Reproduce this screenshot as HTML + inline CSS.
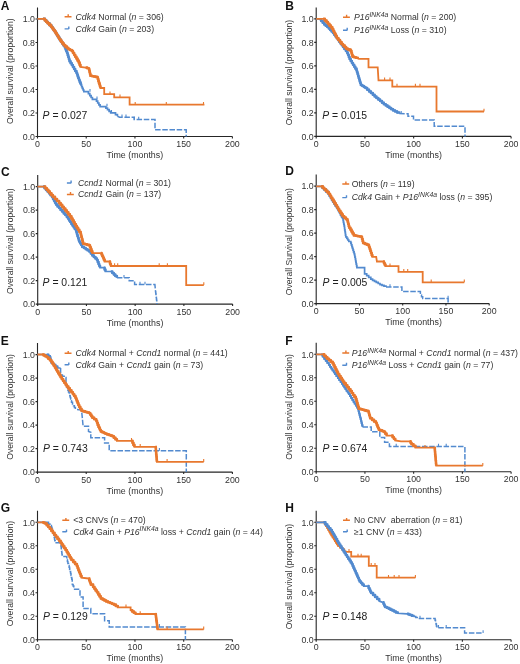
<!DOCTYPE html>
<html><head><meta charset="utf-8"><style>
html,body{margin:0;padding:0;background:#fff;width:520px;height:664px;overflow:hidden}
svg{display:block;filter:blur(0.3px)}
text{font-family:"Liberation Sans", sans-serif;fill:#333333}
.tk{font-size:8.8px}
.lb{font-size:8.85px} .yl{font-size:8.6px}
.lg{font-size:8.7px}
.pv{font-size:10.4px;fill:#222}
.let{font-size:12px;font-weight:bold;fill:#111}
</style></head><body>
<svg width="520" height="664" viewBox="0 0 520 664">
<g id="pA">
<path d="M37.50,7.50 V136.50 H232.40" fill="none" stroke="#262626" stroke-width="1.1"/>
<path d="M35.50,136.50 H37.50 M35.50,113.00 H37.50 M35.50,89.50 H37.50 M35.50,66.00 H37.50 M35.50,42.50 H37.50 M35.50,19.00 H37.50 M37.50,136.50 V138.50 M86.22,136.50 V138.50 M134.95,136.50 V138.50 M183.68,136.50 V138.50 M232.40,136.50 V138.50" stroke="#262626" stroke-width="1.1"/>
<text x="35.00" y="139.70" text-anchor="end" class="tk">0.0</text>
<text x="35.00" y="116.20" text-anchor="end" class="tk">0.2</text>
<text x="35.00" y="92.70" text-anchor="end" class="tk">0.4</text>
<text x="35.00" y="69.20" text-anchor="end" class="tk">0.6</text>
<text x="35.00" y="45.70" text-anchor="end" class="tk">0.8</text>
<text x="35.00" y="22.20" text-anchor="end" class="tk">1.0</text>
<text x="37.50" y="147.10" text-anchor="middle" class="tk">0</text>
<text x="86.22" y="147.10" text-anchor="middle" class="tk">50</text>
<text x="134.95" y="147.10" text-anchor="middle" class="tk">100</text>
<text x="183.68" y="147.10" text-anchor="middle" class="tk">150</text>
<text x="232.40" y="147.10" text-anchor="middle" class="tk">200</text>
<text x="134.80" y="158.00" text-anchor="middle" class="lb">Time (months)</text>
<text transform="translate(13.20,71.25) rotate(-90)" text-anchor="middle" class="yl">Overall survival (proportion)</text>
<text x="0.80" y="10.20" class="let">A</text>
<path d="M37.5,18.8 L43.0,18.8 L45.0,18.8 L45.0,20.5 L46.5,20.5 L46.5,22.0 L48.0,22.0 L48.0,23.5 L49.8,23.5 L49.8,25.4 L51.5,25.4 L51.5,27.2 L52.7,27.2 L52.7,28.8 L53.8,28.8 L53.8,30.4 L55.0,30.4 L55.0,32.0 L56.1,32.0 L56.1,33.9 L57.2,33.9 L57.2,35.8 L58.4,35.8 L58.4,37.6 L59.5,37.6 L59.5,39.5 L60.8,39.5 L60.8,41.5 L62.1,41.5 L62.1,43.5 L63.5,43.5 L63.5,45.5 L64.8,45.5 L64.8,47.5 L65.6,47.5 L65.6,49.4 L66.3,49.4 L66.3,51.3 L67.1,51.3 L67.1,53.2 L67.7,53.2 L67.7,55.2 L68.3,55.2 L68.3,57.2 L68.9,57.2 L68.9,59.3 L69.5,59.3 L69.5,61.3 L70.6,61.3 L70.6,63.2 L71.8,63.2 L71.8,65.1 L72.9,65.1 L72.9,67.0 L74.1,67.0 L74.1,68.9 L75.2,68.9 L75.2,70.9 L76.4,70.9 L76.4,72.8 L77.1,72.8 L77.1,74.6 L77.7,74.6 L77.7,76.4 L78.3,76.4 L78.3,78.2 L79.0,78.2 L79.0,80.0 L79.6,80.0 L79.6,81.7 L80.3,81.7 L80.3,83.3 L80.9,83.3 L80.9,85.0 L81.6,85.0 L81.6,86.7 L82.3,86.7 L82.3,88.3 L83.1,88.3 L83.1,90.0 L83.8,90.0 L83.8,91.7 L87.1,91.7 L88.4,91.7 L88.4,93.6 L89.8,93.6 L89.8,95.6 L91.1,95.6 L91.1,97.5 L92.4,97.5 L92.4,99.4 L95.3,99.4 L96.5,99.4 L96.5,101.2 L97.7,101.2 L97.7,103.0 L98.9,103.0 L98.9,104.8 L100.1,104.8 L100.1,106.6 L104.0,106.6 L105.9,106.6 L105.9,108.1 L107.5,108.1 L107.5,109.7 L109.1,109.7 L109.1,111.3 L110.7,111.3 L110.7,112.9 L113.6,112.9 L115.5,112.9 L115.5,114.6 L117.4,114.6 L117.4,116.3" fill="none" stroke="#528ACF" stroke-width="1.7" stroke-linejoin="miter"/>
<path d="M43.0,18.8 L45.0,18.8 L45.0,20.5 L46.5,20.5 L46.5,22.0 L48.0,22.0 L48.0,23.5 L49.8,23.5 L49.8,25.4 L51.5,25.4 L51.5,27.2 L52.7,27.2 L52.7,28.8 L53.8,28.8 L53.8,30.4 L55.0,30.4 L55.0,32.0 L56.1,32.0 L56.1,33.9 L57.2,33.9 L57.2,35.8 L58.4,35.8 L58.4,37.6 L59.5,37.6 L59.5,39.5 L60.8,39.5 L60.8,41.5 L62.1,41.5 L62.1,43.5 L63.5,43.5 L63.5,45.5 L64.8,45.5 L64.8,47.5 L65.6,47.5 L65.6,49.4 L66.3,49.4 L66.3,51.3 L67.1,51.3 L67.1,53.2 L67.7,53.2 L67.7,55.2 L68.3,55.2 L68.3,57.2 L68.9,57.2 L68.9,59.3 L69.5,59.3 L69.5,61.3 L70.6,61.3 L70.6,63.2 L71.8,63.2 L71.8,65.1 L72.9,65.1 L72.9,67.0 L74.1,67.0 L74.1,68.9 L75.2,68.9 L75.2,70.9 L76.4,70.9 L76.4,72.8 L77.1,72.8 L77.1,74.6 L77.7,74.6 L77.7,76.4 L78.3,76.4 L78.3,78.2 L79.0,78.2 L79.0,80.0 L79.6,80.0 L79.6,81.7 L80.3,81.7 L80.3,83.3 L80.9,83.3 L80.9,85.0" fill="none" stroke="#528ACF" stroke-width="2.5" stroke-linejoin="round"/>
<path d="M117.4,116.3 L119.6,117.3 L134.2,117.3 L134.2,119.5 L155.0,119.5 L155.0,129.8 L186.2,129.8 L186.2,136.5" fill="none" stroke="#528ACF" stroke-width="1.5" stroke-dasharray="5.5,1.7"/>
<path d="M134.3,119.5 V116.7 M138.7,119.5 V116.7 M90.0,91.7 V88.9 M97.0,99.4 V96.6 M107.0,106.6 V103.8 M111.5,112.9 V110.1 M122.0,117.3 V114.5 M126.0,117.3 V114.5" fill="none" stroke="#528ACF" stroke-width="1.1"/>
<path d="M37.5,18.8 L42.9,18.8 L44.7,18.8 L44.7,20.3 L46.1,20.3 L46.1,21.8 L47.5,21.8 L47.5,23.2 L49.2,23.2 L49.2,24.9 L51.0,24.9 L51.0,26.7 L52.2,26.7 L52.2,28.2 L53.3,28.2 L53.3,29.8 L54.5,29.8 L54.5,31.3 L55.6,31.3 L55.6,33.2 L56.8,33.2 L56.8,35.0 L57.9,35.0 L57.9,36.9 L59.0,36.9 L59.0,38.8 L60.2,38.8 L60.2,40.4 L61.4,40.4 L61.4,42.0 L62.5,42.0 L62.5,43.5 L63.7,43.5 L63.7,45.1 L65.2,45.1 L65.2,46.5 L66.8,46.5 L66.8,47.8 L68.3,47.8 L68.3,49.2 L70.0,49.2 L70.0,50.0 L71.8,50.0 L71.8,50.9 L72.9,50.9 L72.9,52.8 L74.1,52.8 L74.1,54.8 L75.2,54.8 L75.2,56.7 L76.4,56.7 L76.4,58.6 L77.5,58.6 L77.5,60.6 L78.7,60.6 L78.7,62.5 L79.6,62.5 L79.6,64.8 L80.4,64.8 L80.4,67.0 L85.6,67.6 L87.2,67.6 L87.2,68.2 L88.8,68.2 L88.8,68.8 L89.2,68.8 L89.2,70.5 L89.6,70.5 L89.6,72.3 L90.0,72.3 L90.0,74.0 L90.4,74.0 L90.4,75.8 L92.1,75.8 L92.1,76.2 L93.8,76.2 L93.8,76.5 L95.6,76.5 L95.6,76.9 L97.3,76.9 L97.3,77.3 L97.8,77.3 L97.8,79.1 L98.3,79.1 L98.3,80.9 L98.8,80.9 L98.8,82.7 L99.4,82.7 L99.4,84.4 L99.9,84.4 L99.9,86.2 L100.4,86.2 L100.4,88.0 L104.2,88.0 L104.2,94.2 L114.2,94.2 L114.2,97.3 L129.6,97.3 L129.6,104.7 L204.4,104.7" fill="none" stroke="#E8782E" stroke-width="1.8" stroke-linejoin="miter"/>
<path d="M42.9,18.8 L44.7,18.8 L44.7,20.3 L46.1,20.3 L46.1,21.8 L47.5,21.8 L47.5,23.2 L49.2,23.2 L49.2,24.9 L51.0,24.9 L51.0,26.7 L52.2,26.7 L52.2,28.2 L53.3,28.2 L53.3,29.8 L54.5,29.8 L54.5,31.3 L55.6,31.3 L55.6,33.2 L56.8,33.2 L56.8,35.0 L57.9,35.0 L57.9,36.9 L59.0,36.9 L59.0,38.8 L60.2,38.8 L60.2,40.4 L61.4,40.4 L61.4,42.0 L62.5,42.0 L62.5,43.5 L63.7,43.5 L63.7,45.1 L65.2,45.1 L65.2,46.5 L66.8,46.5 L66.8,47.8 L68.3,47.8 L68.3,49.2 L70.0,49.2 L70.0,50.0 L71.8,50.0 L71.8,50.9 L72.9,50.9 L72.9,52.8 L74.1,52.8 L74.1,54.8 L75.2,54.8 L75.2,56.7 L76.4,56.7 L76.4,58.6 L77.5,58.6 L77.5,60.6 L78.7,60.6 L78.7,62.5 L79.6,62.5 L79.6,64.8 L80.4,64.8 L80.4,67.0 M85.6,67.6 L87.2,67.6 L87.2,68.2 L88.8,68.2 L88.8,68.8 L89.2,68.8 L89.2,70.5 L89.6,70.5 L89.6,72.3 L90.0,72.3 L90.0,74.0 L90.4,74.0 L90.4,75.8 L92.1,75.8 L92.1,76.2 L93.8,76.2 L93.8,76.5 L95.6,76.5 L95.6,76.9 L97.3,76.9 L97.3,77.3 L97.8,77.3 L97.8,79.1 L98.3,79.1 L98.3,80.9 L98.8,80.9 L98.8,82.7 L99.4,82.7 L99.4,84.4 L99.9,84.4 L99.9,86.2 L100.4,86.2 L100.4,88.0" fill="none" stroke="#E8782E" stroke-width="2.6" stroke-linejoin="round"/>
<path d="M135.2,104.7 V101.9 M166.3,104.7 V101.9 M203.5,104.7 V101.9 M110.0,94.2 V91.4 M120.0,97.3 V94.5" fill="none" stroke="#E8782E" stroke-width="1.1"/>
<path d="M64.60,16.70 h6.9 M68.20,14.30 v2.4" stroke="#E8782E" stroke-width="1.4" fill="none"/>
<text x="75.60" y="19.50" class="lg"><tspan font-style="italic">Cdk4</tspan> Normal (<tspan font-style="italic">n</tspan> = 306)</text>
<path d="M64.60,28.90 h4.2 M68.80,26.50 v2.6" stroke="#528ACF" stroke-width="1.4" fill="none"/>
<text x="75.60" y="31.70" class="lg"><tspan font-style="italic">Cdk4</tspan> Gain (<tspan font-style="italic">n</tspan> = 203)</text>
<text x="42.60" y="118.70" class="pv"><tspan font-style="italic">P</tspan> = 0.027</text>
</g>
<g id="pB">
<path d="M316.20,7.40 V136.40 H511.10" fill="none" stroke="#262626" stroke-width="1.1"/>
<path d="M314.20,136.40 H316.20 M314.20,112.90 H316.20 M314.20,89.40 H316.20 M314.20,65.90 H316.20 M314.20,42.40 H316.20 M314.20,18.90 H316.20 M316.20,136.40 V138.40 M364.93,136.40 V138.40 M413.65,136.40 V138.40 M462.38,136.40 V138.40 M511.10,136.40 V138.40" stroke="#262626" stroke-width="1.1"/>
<text x="313.70" y="139.60" text-anchor="end" class="tk">0.0</text>
<text x="313.70" y="116.10" text-anchor="end" class="tk">0.2</text>
<text x="313.70" y="92.60" text-anchor="end" class="tk">0.4</text>
<text x="313.70" y="69.10" text-anchor="end" class="tk">0.6</text>
<text x="313.70" y="45.60" text-anchor="end" class="tk">0.8</text>
<text x="313.70" y="22.10" text-anchor="end" class="tk">1.0</text>
<text x="316.20" y="147.00" text-anchor="middle" class="tk">0</text>
<text x="364.93" y="147.00" text-anchor="middle" class="tk">50</text>
<text x="413.65" y="147.00" text-anchor="middle" class="tk">100</text>
<text x="462.38" y="147.00" text-anchor="middle" class="tk">150</text>
<text x="511.10" y="147.00" text-anchor="middle" class="tk">200</text>
<text x="413.50" y="157.90" text-anchor="middle" class="lb">Time (months)</text>
<text transform="translate(291.90,72.55) rotate(-90)" text-anchor="middle" class="yl">Overall survival (proportion)</text>
<text x="285.20" y="10.00" class="let">B</text>
<path d="M316.2,18.8 L319.6,19.2 L321.1,19.2 L321.1,20.9 L322.7,20.9 L322.7,22.7 L324.2,22.7 L324.2,24.4 L325.7,24.4 L325.7,25.7 L327.3,25.7 L327.3,27.1 L328.8,27.1 L328.8,28.4 L330.2,28.4 L330.2,29.9 L331.6,29.9 L331.6,31.5 L333.0,31.5 L333.0,33.0 L334.2,33.0 L334.2,34.8 L335.5,34.8 L335.5,36.5 L336.8,36.5 L336.8,38.2 L338.0,38.2 L338.0,40.0 L339.2,40.0 L339.2,41.8 L340.5,41.8 L340.5,43.5 L341.8,43.5 L341.8,45.2 L343.0,45.2 L343.0,47.0 L344.4,47.0 L344.4,49.1 L345.9,49.1 L345.9,51.1 L347.3,51.1 L347.3,53.2 L348.1,53.2 L348.1,55.1 L348.8,55.1 L348.8,57.1 L349.6,57.1 L349.6,59.0 L350.7,59.0 L350.7,60.9 L351.9,60.9 L351.9,62.9 L353.0,62.9 L353.0,64.8 L354.2,64.8 L354.2,66.7 L355.3,66.7 L355.3,68.6 L356.5,68.6 L356.5,70.5 L357.0,70.5 L357.0,72.3 L357.6,72.3 L357.6,74.1 L358.1,74.1 L358.1,75.9 L358.6,75.9 L358.6,77.8 L359.2,77.8 L359.2,79.6 L359.7,79.6 L359.7,81.4 L360.3,81.4 L360.3,83.2 L360.8,83.2 L360.8,85.0 L362.3,85.0 L362.3,86.0 L363.9,86.0 L363.9,87.0 L365.4,87.0 L365.4,88.0 L367.2,88.0 L367.2,89.7 L369.1,89.7 L369.1,91.4 L370.9,91.4 L370.9,93.1 L372.8,93.1 L372.8,94.8 L374.6,94.8 L374.6,96.5 L376.4,96.5 L376.4,98.0 L378.3,98.0 L378.3,99.6 L380.1,99.6 L380.1,101.1 L382.0,101.1 L382.0,102.7 L383.8,102.7 L383.8,104.2 L385.7,104.2 L385.7,105.4 L387.5,105.4 L387.5,106.7 L389.4,106.7 L389.4,107.9 L391.2,107.9 L391.2,109.2 L393.1,109.2 L393.1,110.4 L395.1,110.4 L395.1,111.4 L397.2,111.4 L397.2,112.5 L399.2,112.5 L399.2,113.5" fill="none" stroke="#528ACF" stroke-width="1.7" stroke-linejoin="miter"/>
<path d="M319.6,19.2 L321.1,19.2 L321.1,20.9 L322.7,20.9 L322.7,22.7 L324.2,22.7 L324.2,24.4 L325.7,24.4 L325.7,25.7 L327.3,25.7 L327.3,27.1 L328.8,27.1 L328.8,28.4 L330.2,28.4 L330.2,29.9 L331.6,29.9 L331.6,31.5 L333.0,31.5 L333.0,33.0 L334.2,33.0 L334.2,34.8 L335.5,34.8 L335.5,36.5 L336.8,36.5 L336.8,38.2 L338.0,38.2 L338.0,40.0 L339.2,40.0 L339.2,41.8 L340.5,41.8 L340.5,43.5 L341.8,43.5 L341.8,45.2 L343.0,45.2 L343.0,47.0 L344.4,47.0 L344.4,49.1 L345.9,49.1 L345.9,51.1 L347.3,51.1 L347.3,53.2 L348.1,53.2 L348.1,55.1 L348.8,55.1 L348.8,57.1 L349.6,57.1 L349.6,59.0 L350.7,59.0 L350.7,60.9 L351.9,60.9 L351.9,62.9 L353.0,62.9 L353.0,64.8 L354.2,64.8 L354.2,66.7 L355.3,66.7 L355.3,68.6 L356.5,68.6 L356.5,70.5 L357.0,70.5 L357.0,72.3 L357.6,72.3 L357.6,74.1 L358.1,74.1 L358.1,75.9 L358.6,75.9 L358.6,77.8 L359.2,77.8 L359.2,79.6 L359.7,79.6 L359.7,81.4 L360.3,81.4 L360.3,83.2 L360.8,83.2 L360.8,85.0 L362.3,85.0 L362.3,86.0 L363.9,86.0 L363.9,87.0 L365.4,87.0 L365.4,88.0 L367.2,88.0 L367.2,89.7 L369.1,89.7 L369.1,91.4 L370.9,91.4 L370.9,93.1 L372.8,93.1 L372.8,94.8 L374.6,94.8 L374.6,96.5 L376.4,96.5 L376.4,98.0 L378.3,98.0 L378.3,99.6 L380.1,99.6 L380.1,101.1 L382.0,101.1 L382.0,102.7 L383.8,102.7 L383.8,104.2 L385.7,104.2 L385.7,105.4 L387.5,105.4 L387.5,106.7 L389.4,106.7 L389.4,107.9 L391.2,107.9 L391.2,109.2 L393.1,109.2 L393.1,110.4 L395.1,110.4 L395.1,111.4 L397.2,111.4 L397.2,112.5 L399.2,112.5 L399.2,113.5" fill="none" stroke="#528ACF" stroke-width="2.5" stroke-linejoin="round"/>
<path d="M399.2,113.5 L408.0,113.8 L408.0,116.2 L413.5,116.2 L413.5,120.0 L434.2,120.0 L434.2,126.2 L465.0,126.2 L465.0,136.5" fill="none" stroke="#528ACF" stroke-width="1.5" stroke-dasharray="5.5,1.7"/>
<path d="M397.3,113.6 V110.8 M401.2,113.8 V111.0" fill="none" stroke="#528ACF" stroke-width="1.1"/>
<path d="M316.2,18.8 L323.1,18.8 L324.8,18.8 L324.8,20.5 L326.5,20.5 L326.5,22.1 L327.9,22.1 L327.9,23.8 L329.4,23.8 L329.4,25.6 L330.9,25.6 L330.9,27.3 L332.3,27.3 L332.3,29.0 L333.2,29.0 L333.2,30.8 L334.1,30.8 L334.1,32.7 L335.1,32.7 L335.1,34.5 L336.0,34.5 L336.0,36.4 L336.9,36.4 L336.9,38.2 L338.4,38.2 L338.4,40.1 L340.0,40.1 L340.0,42.1 L341.5,42.1 L341.5,44.0 L343.0,44.0 L343.0,45.5 L344.6,45.5 L344.6,47.1 L346.1,47.1 L346.1,48.6 L347.7,48.6 L347.7,49.4 L349.2,49.4 L349.2,50.1 L350.8,50.1 L350.8,50.9 L351.4,50.9 L351.4,52.8 L351.9,52.8 L351.9,54.8 L352.5,54.8 L352.5,56.7 L354.2,56.7 L354.2,57.3 L356.0,57.3 L356.0,57.8 L357.7,57.8 L357.7,58.4 L358.8,58.8 L368.5,58.8 L368.5,67.3 L377.7,67.3 L378.5,80.4 L392.3,80.4 L392.3,86.6 L436.5,86.6 L436.5,111.5 L484.0,111.5" fill="none" stroke="#E8782E" stroke-width="1.8" stroke-linejoin="miter"/>
<path d="M323.1,18.8 L324.8,18.8 L324.8,20.5 L326.5,20.5 L326.5,22.1 L327.9,22.1 L327.9,23.8 L329.4,23.8 L329.4,25.6 L330.9,25.6 L330.9,27.3 L332.3,27.3 L332.3,29.0 L333.2,29.0 L333.2,30.8 L334.1,30.8 L334.1,32.7 L335.1,32.7 L335.1,34.5 L336.0,34.5 L336.0,36.4 L336.9,36.4 L336.9,38.2 L338.4,38.2 L338.4,40.1 L340.0,40.1 L340.0,42.1 L341.5,42.1 L341.5,44.0 L343.0,44.0 L343.0,45.5 L344.6,45.5 L344.6,47.1 L346.1,47.1 L346.1,48.6 L347.7,48.6 L347.7,49.4 L349.2,49.4 L349.2,50.1 L350.8,50.1 L350.8,50.9 L351.4,50.9 L351.4,52.8 L351.9,52.8 L351.9,54.8 L352.5,54.8 L352.5,56.7 L354.2,56.7 L354.2,57.3 L356.0,57.3 L356.0,57.8 L357.7,57.8 L357.7,58.4" fill="none" stroke="#E8782E" stroke-width="2.6" stroke-linejoin="round"/>
<path d="M350.8,50.9 V48.1 M384.6,80.4 V77.6 M390.0,80.4 V77.6 M397.0,86.6 V83.8 M415.4,86.6 V83.8 M420.0,86.6 V83.8 M484.0,111.5 V108.7" fill="none" stroke="#E8782E" stroke-width="1.1"/>
<path d="M343.00,17.20 h6.9 M346.60,14.80 v2.4" stroke="#E8782E" stroke-width="1.4" fill="none"/>
<text x="354.00" y="20.00" class="lg"><tspan font-style="italic">P16</tspan><tspan font-size="6.8" dy="-3.3" font-style="italic">INK4a</tspan><tspan dy="3.3"> Normal (<tspan font-style="italic">n</tspan> = 200)</tspan></text>
<path d="M343.00,30.20 h4.2 M347.20,27.80 v2.6" stroke="#528ACF" stroke-width="1.4" fill="none"/>
<text x="354.00" y="33.00" class="lg"><tspan font-style="italic">P16</tspan><tspan font-size="6.8" dy="-3.3" font-style="italic">INK4a</tspan><tspan dy="3.3"> Loss (<tspan font-style="italic">n</tspan> = 310)</tspan></text>
<text x="322.20" y="118.60" class="pv"><tspan font-style="italic">P</tspan> = 0.015</text>
</g>
<g id="pC">
<path d="M37.70,175.10 V304.10 H232.60" fill="none" stroke="#262626" stroke-width="1.1"/>
<path d="M35.70,304.10 H37.70 M35.70,280.60 H37.70 M35.70,257.10 H37.70 M35.70,233.60 H37.70 M35.70,210.10 H37.70 M35.70,186.60 H37.70 M37.70,304.10 V306.10 M86.43,304.10 V306.10 M135.15,304.10 V306.10 M183.88,304.10 V306.10 M232.60,304.10 V306.10" stroke="#262626" stroke-width="1.1"/>
<text x="35.20" y="307.30" text-anchor="end" class="tk">0.0</text>
<text x="35.20" y="283.80" text-anchor="end" class="tk">0.2</text>
<text x="35.20" y="260.30" text-anchor="end" class="tk">0.4</text>
<text x="35.20" y="236.80" text-anchor="end" class="tk">0.6</text>
<text x="35.20" y="213.30" text-anchor="end" class="tk">0.8</text>
<text x="35.20" y="189.80" text-anchor="end" class="tk">1.0</text>
<text x="37.70" y="314.70" text-anchor="middle" class="tk">0</text>
<text x="86.43" y="314.70" text-anchor="middle" class="tk">50</text>
<text x="135.15" y="314.70" text-anchor="middle" class="tk">100</text>
<text x="183.88" y="314.70" text-anchor="middle" class="tk">150</text>
<text x="232.60" y="314.70" text-anchor="middle" class="tk">200</text>
<text x="135.00" y="325.60" text-anchor="middle" class="lb">Time (months)</text>
<text transform="translate(13.40,241.20) rotate(-90)" text-anchor="middle" class="yl">Overall survival (proportion)</text>
<text x="1.00" y="175.80" class="let">C</text>
<path d="M37.5,186.6 L43.0,186.6 L44.5,186.6 L44.5,188.2 L46.0,188.2 L46.0,189.9 L47.5,189.9 L47.5,191.5 L49.0,191.5 L49.0,193.3 L50.5,193.3 L50.5,195.2 L52.0,195.2 L52.0,197.0 L53.0,197.0 L53.0,198.9 L54.0,198.9 L54.0,200.8 L55.0,200.8 L55.0,202.7 L56.0,202.7 L56.0,204.6 L57.5,204.6 L57.5,206.4 L59.1,206.4 L59.1,208.1 L60.6,208.1 L60.6,209.9 L62.2,209.9 L62.2,211.6 L63.7,211.6 L63.7,213.4 L65.3,213.4 L65.3,215.1 L66.8,215.1 L66.8,216.9 L68.0,216.9 L68.0,218.6 L69.1,218.6 L69.1,220.4 L70.2,220.4 L70.2,222.1 L71.4,222.1 L71.4,223.9 L72.5,223.9 L72.5,225.6 L73.7,225.6 L73.7,227.3 L74.8,227.3 L74.8,229.1 L76.0,229.1 L76.0,230.8 L76.5,230.8 L76.5,232.6 L77.0,232.6 L77.0,234.4 L77.5,234.4 L77.5,236.2 L78.1,236.2 L78.1,237.9 L78.6,237.9 L78.6,239.7 L79.1,239.7 L79.1,241.5 L80.1,241.5 L80.1,243.3 L81.2,243.3 L81.2,245.1 L82.2,245.1 L82.2,246.9 L84.0,246.9 L84.0,248.1 L85.7,248.1 L85.7,249.2 L87.5,249.2 L87.5,250.3 L89.2,250.3 L89.2,251.5 L90.8,251.5 L90.8,253.4 L92.3,253.4 L92.3,255.4 L93.8,255.4 L93.8,256.9 L95.4,256.9 L95.4,258.5 L96.9,258.5 L96.9,260.0 L97.7,260.0 L97.7,261.9 L98.5,261.9 L98.5,263.9 L99.2,263.9 L99.2,265.8 L100.0,265.8 L100.0,267.7 L103.8,267.7 L104.6,267.7 L104.6,269.6 L105.4,269.6 L105.4,271.5 L110.8,271.5 L112.3,271.5 L112.3,273.1 L113.8,273.1 L113.8,274.6 L115.3,274.6 L115.3,276.1 L116.9,276.1 L116.9,277.7" fill="none" stroke="#528ACF" stroke-width="1.7" stroke-linejoin="miter"/>
<path d="M43.0,186.6 L44.5,186.6 L44.5,188.2 L46.0,188.2 L46.0,189.9 L47.5,189.9 L47.5,191.5 L49.0,191.5 L49.0,193.3 L50.5,193.3 L50.5,195.2 L52.0,195.2 L52.0,197.0 L53.0,197.0 L53.0,198.9 L54.0,198.9 L54.0,200.8 L55.0,200.8 L55.0,202.7 L56.0,202.7 L56.0,204.6 L57.5,204.6 L57.5,206.4 L59.1,206.4 L59.1,208.1 L60.6,208.1 L60.6,209.9 L62.2,209.9 L62.2,211.6 L63.7,211.6 L63.7,213.4 L65.3,213.4 L65.3,215.1 L66.8,215.1 L66.8,216.9 L68.0,216.9 L68.0,218.6 L69.1,218.6 L69.1,220.4 L70.2,220.4 L70.2,222.1 L71.4,222.1 L71.4,223.9 L72.5,223.9 L72.5,225.6 L73.7,225.6 L73.7,227.3 L74.8,227.3 L74.8,229.1 L76.0,229.1 L76.0,230.8 L76.5,230.8 L76.5,232.6 L77.0,232.6 L77.0,234.4 L77.5,234.4 L77.5,236.2 L78.1,236.2 L78.1,237.9 L78.6,237.9 L78.6,239.7 L79.1,239.7 L79.1,241.5 L80.1,241.5 L80.1,243.3 L81.2,243.3 L81.2,245.1 L82.2,245.1 L82.2,246.9 L84.0,246.9 L84.0,248.1 L85.7,248.1 L85.7,249.2 L87.5,249.2 L87.5,250.3 L89.2,250.3 L89.2,251.5 L90.8,251.5 L90.8,253.4 L92.3,253.4 L92.3,255.4 L93.8,255.4 L93.8,256.9 L95.4,256.9 L95.4,258.5 L96.9,258.5 L96.9,260.0 L97.7,260.0 L97.7,261.9 L98.5,261.9 L98.5,263.9 L99.2,263.9 L99.2,265.8 L100.0,265.8 L100.0,267.7 M103.8,267.7 L104.6,267.7 L104.6,269.6 L105.4,269.6 L105.4,271.5 M110.8,271.5 L112.3,271.5 L112.3,273.1 L113.8,273.1 L113.8,274.6 L115.3,274.6 L115.3,276.1 L116.9,276.1 L116.9,277.7" fill="none" stroke="#528ACF" stroke-width="2.5" stroke-linejoin="round"/>
<path d="M116.9,277.7 L129.2,277.7 L129.2,280.8 L134.6,280.8 L134.6,284.6 L154.9,284.6 L155.6,292.0 L155.8,292.0 L155.8,293.7 L156.0,293.7 L156.0,295.5 L156.2,295.5 L156.2,297.2 L156.4,297.2 L156.4,298.9 L156.6,298.9 L156.6,300.6 L156.8,300.6 L156.8,302.4 L157.0,302.4 L157.0,304.1" fill="none" stroke="#528ACF" stroke-width="1.5" stroke-dasharray="5.5,1.7"/>
<path d="M124.0,277.7 V274.9 M140.0,284.6 V281.8 M145.0,284.6 V281.8" fill="none" stroke="#528ACF" stroke-width="1.1"/>
<path d="M37.5,186.6 L43.7,186.6 L45.2,186.6 L45.2,188.2 L46.8,188.2 L46.8,189.9 L48.3,189.9 L48.3,191.5 L49.8,191.5 L49.8,193.3 L51.4,193.3 L51.4,195.1 L52.9,195.1 L52.9,196.9 L55.0,196.9 L55.0,199.0 L57.0,199.0 L57.0,201.0 L59.1,201.0 L59.1,203.1 L60.6,203.1 L60.6,204.9 L62.2,204.9 L62.2,206.8 L63.7,206.8 L63.7,208.6 L65.3,208.6 L65.3,210.5 L66.8,210.5 L66.8,212.3 L68.3,212.3 L68.3,214.4 L69.9,214.4 L69.9,216.4 L71.4,216.4 L71.4,218.5 L72.5,218.5 L72.5,220.3 L73.6,220.3 L73.6,222.2 L74.6,222.2 L74.6,224.0 L75.7,224.0 L75.7,225.9 L76.8,225.9 L76.8,227.7 L78.1,227.7 L78.1,229.7 L79.3,229.7 L79.3,231.8 L80.6,231.8 L80.6,233.8 L81.0,233.8 L81.0,235.5 L81.4,235.5 L81.4,237.1 L81.8,237.1 L81.8,238.8 L82.3,238.8 L82.3,240.5 L82.7,240.5 L82.7,242.1 L83.1,242.1 L83.1,243.8 L85.1,243.8 L85.1,244.3 L87.2,244.3 L87.2,244.9 L89.2,244.9 L89.2,245.4 L90.0,245.4 L90.0,247.3 L90.8,247.3 L90.8,249.2 L91.5,249.2 L91.5,251.2 L92.3,251.2 L92.3,253.1 L100.8,253.1 L101.6,253.1 L101.6,254.6 L102.3,254.6 L102.3,256.2 L103.1,256.2 L103.1,257.7 L103.8,257.7 L103.8,259.6 L104.6,259.6 L104.6,261.5 L109.2,261.5 L110.0,261.5 L110.0,263.8 L110.8,263.8 L110.8,266.0 L186.2,266.0 L186.2,285.1 L203.8,285.1" fill="none" stroke="#E8782E" stroke-width="1.8" stroke-linejoin="miter"/>
<path d="M43.7,186.6 L45.2,186.6 L45.2,188.2 L46.8,188.2 L46.8,189.9 L48.3,189.9 L48.3,191.5 L49.8,191.5 L49.8,193.3 L51.4,193.3 L51.4,195.1 L52.9,195.1 L52.9,196.9 L55.0,196.9 L55.0,199.0 L57.0,199.0 L57.0,201.0 L59.1,201.0 L59.1,203.1 L60.6,203.1 L60.6,204.9 L62.2,204.9 L62.2,206.8 L63.7,206.8 L63.7,208.6 L65.3,208.6 L65.3,210.5 L66.8,210.5 L66.8,212.3 L68.3,212.3 L68.3,214.4 L69.9,214.4 L69.9,216.4 L71.4,216.4 L71.4,218.5 L72.5,218.5 L72.5,220.3 L73.6,220.3 L73.6,222.2 L74.6,222.2 L74.6,224.0 L75.7,224.0 L75.7,225.9 L76.8,225.9 L76.8,227.7 L78.1,227.7 L78.1,229.7 L79.3,229.7 L79.3,231.8 L80.6,231.8 L80.6,233.8 L81.0,233.8 L81.0,235.5 L81.4,235.5 L81.4,237.1 L81.8,237.1 L81.8,238.8 L82.3,238.8 L82.3,240.5 L82.7,240.5 L82.7,242.1 L83.1,242.1 L83.1,243.8 L85.1,243.8 L85.1,244.3 L87.2,244.3 L87.2,244.9 L89.2,244.9 L89.2,245.4 L90.0,245.4 L90.0,247.3 L90.8,247.3 L90.8,249.2 L91.5,249.2 L91.5,251.2 L92.3,251.2 L92.3,253.1 M100.8,253.1 L101.6,253.1 L101.6,254.6 L102.3,254.6 L102.3,256.2 L103.1,256.2 L103.1,257.7 L103.8,257.7 L103.8,259.6 L104.6,259.6 L104.6,261.5 M109.2,261.5 L110.0,261.5 L110.0,263.8 L110.8,263.8 L110.8,266.0" fill="none" stroke="#E8782E" stroke-width="2.6" stroke-linejoin="round"/>
<path d="M114.6,266.0 V263.2 M117.7,266.0 V263.2 M159.2,266.0 V263.2 M167.4,266.0 V263.2 M203.8,285.1 V282.3" fill="none" stroke="#E8782E" stroke-width="1.1"/>
<path d="M66.90,183.00 h4.2 M71.10,180.60 v2.6" stroke="#528ACF" stroke-width="1.4" fill="none"/>
<text x="77.90" y="185.80" class="lg"><tspan font-style="italic">Ccnd1</tspan> Normal (<tspan font-style="italic">n</tspan> = 301)</text>
<path d="M66.90,194.50 h6.9 M70.50,192.10 v2.4" stroke="#E8782E" stroke-width="1.4" fill="none"/>
<text x="77.90" y="197.30" class="lg"><tspan font-style="italic">Ccnd1</tspan> Gain (<tspan font-style="italic">n</tspan> = 137)</text>
<text x="42.60" y="285.60" class="pv"><tspan font-style="italic">P</tspan> = 0.121</text>
</g>
<g id="pD">
<path d="M316.20,174.60 V303.60 H489.20" fill="none" stroke="#262626" stroke-width="1.1"/>
<path d="M314.20,303.60 H316.20 M314.20,280.10 H316.20 M314.20,256.60 H316.20 M314.20,233.10 H316.20 M314.20,209.60 H316.20 M314.20,186.10 H316.20 M316.20,303.60 V305.60 M359.45,303.60 V305.60 M402.70,303.60 V305.60 M445.95,303.60 V305.60 M489.20,303.60 V305.60" stroke="#262626" stroke-width="1.1"/>
<text x="313.70" y="306.80" text-anchor="end" class="tk">0.0</text>
<text x="313.70" y="283.30" text-anchor="end" class="tk">0.2</text>
<text x="313.70" y="259.80" text-anchor="end" class="tk">0.4</text>
<text x="313.70" y="236.30" text-anchor="end" class="tk">0.6</text>
<text x="313.70" y="212.80" text-anchor="end" class="tk">0.8</text>
<text x="313.70" y="189.30" text-anchor="end" class="tk">1.0</text>
<text x="316.20" y="314.20" text-anchor="middle" class="tk">0</text>
<text x="359.45" y="314.20" text-anchor="middle" class="tk">50</text>
<text x="402.70" y="314.20" text-anchor="middle" class="tk">100</text>
<text x="445.95" y="314.20" text-anchor="middle" class="tk">150</text>
<text x="489.20" y="314.20" text-anchor="middle" class="tk">200</text>
<text x="413.50" y="325.10" text-anchor="middle" class="lb">Time (months)</text>
<text transform="translate(291.90,241.70) rotate(-90)" text-anchor="middle" class="yl">Overall Survival (proportion)</text>
<text x="285.20" y="175.30" class="let">D</text>
<path d="M316.2,186.4 L321.0,186.4 L322.5,186.4 L322.5,187.9 L324.0,187.9 L324.0,189.5 L326.2,189.5 L326.2,191.8 L328.5,191.8 L328.5,194.0 L329.6,194.0 L329.6,195.9 L330.8,195.9 L330.8,197.9 L331.9,197.9 L331.9,199.9 L333.0,199.9 L333.0,201.8 L334.2,201.8 L334.2,203.7 L335.5,203.7 L335.5,205.7 L336.8,205.7 L336.8,207.6 L338.0,207.6 L338.0,209.5 L338.9,209.5 L338.9,211.3 L339.9,211.3 L339.9,213.1 L340.8,213.1 L340.8,214.9 L341.8,214.9 L341.8,216.7 L342.7,216.7 L342.7,218.5 L343.1,218.5 L343.1,220.4 L343.4,220.4 L343.4,222.3 L343.8,222.3 L343.8,224.3 L344.2,224.3 L344.2,226.2 L344.5,226.2 L344.5,228.0 L344.7,228.0 L344.7,229.8 L345.0,229.8 L345.0,231.6 L345.3,231.6 L345.3,233.3 L345.5,233.3 L345.5,235.1 L345.8,235.1 L345.8,236.9 L346.8,236.9 L346.8,238.4 L347.8,238.4 L347.8,240.0 L348.8,240.0 L348.8,241.5 L350.8,241.5 L350.8,243.1 L351.3,243.1 L351.3,244.9 L351.9,244.9 L351.9,246.6 L352.4,246.6 L352.4,248.4 L353.0,248.4 L353.0,250.1 L353.5,250.1 L353.5,251.9 L354.1,251.9 L354.1,253.6 L354.6,253.6 L354.6,255.4 L354.9,255.4 L354.9,257.2 L355.3,257.2 L355.3,258.9 L355.6,258.9 L355.6,260.7 L355.9,260.7 L355.9,262.4 L356.2,262.4 L356.2,264.2 L356.6,264.2 L356.6,265.9 L356.9,265.9 L356.9,267.7 L364.6,267.7 L364.6,273.8 L366.7,273.8 L366.7,275.6 L368.7,275.6 L368.7,277.4 L370.8,277.4 L370.8,279.2 L372.6,279.2 L372.6,280.3 L374.5,280.3 L374.5,281.4 L376.3,281.4 L376.3,282.4 L378.2,282.4 L378.2,283.5 L380.0,283.5 L380.0,284.6 L382.0,284.6 L382.0,285.4 L384.0,285.4 L384.0,286.2 L386.0,286.2 L386.0,287.0" fill="none" stroke="#528ACF" stroke-width="1.7" stroke-linejoin="miter"/>
<path d="M321.0,186.4 L322.5,186.4 L322.5,187.9 L324.0,187.9 L324.0,189.5 L326.2,189.5 L326.2,191.8 L328.5,191.8 L328.5,194.0 L329.6,194.0 L329.6,195.9 L330.8,195.9 L330.8,197.9 L331.9,197.9 L331.9,199.9 L333.0,199.9 L333.0,201.8 L334.2,201.8 L334.2,203.7 L335.5,203.7 L335.5,205.7 L336.8,205.7 L336.8,207.6 L338.0,207.6 L338.0,209.5 L338.9,209.5 L338.9,211.3 L339.9,211.3 L339.9,213.1 L340.8,213.1 L340.8,214.9 L341.8,214.9 L341.8,216.7 L342.7,216.7 L342.7,218.5" fill="none" stroke="#528ACF" stroke-width="2.5" stroke-linejoin="round"/>
<path d="M386.0,287.0 L401.9,287.0 L401.9,291.5 L420.4,291.5 L420.4,295.0 L421.5,295.0 L421.5,296.8 L422.7,296.8 L422.7,298.5 L448.1,298.5 L448.1,303.7" fill="none" stroke="#528ACF" stroke-width="1.5" stroke-dasharray="5.5,1.7"/>
<path d="M390.0,287.0 V284.2 M448.1,298.5 V295.7" fill="none" stroke="#528ACF" stroke-width="1.1"/>
<path d="M316.2,186.4 L321.2,186.4 L322.7,186.4 L322.7,187.8 L324.2,187.8 L324.2,189.2 L325.7,189.2 L325.7,190.7 L327.3,190.7 L327.3,192.3 L328.8,192.3 L328.8,193.8 L330.0,193.8 L330.0,195.7 L331.1,195.7 L331.1,197.7 L332.3,197.7 L332.3,199.6 L333.5,199.6 L333.5,201.5 L334.6,201.5 L334.6,203.4 L335.8,203.4 L335.8,205.3 L337.0,205.3 L337.0,207.3 L338.1,207.3 L338.1,209.2 L339.2,209.2 L339.2,210.9 L340.4,210.9 L340.4,212.7 L341.6,212.7 L341.6,214.4 L342.7,214.4 L342.7,216.2 L344.2,216.2 L344.2,217.6 L345.8,217.6 L345.8,219.1 L347.3,219.1 L347.3,220.5 L347.8,220.5 L347.8,222.3 L348.2,222.3 L348.2,224.1 L348.7,224.1 L348.7,225.9 L349.2,225.9 L349.2,227.7 L350.4,227.7 L350.4,229.6 L351.5,229.6 L351.5,231.6 L352.6,231.6 L352.6,233.5 L353.8,233.5 L353.8,235.4 L355.7,235.4 L355.7,235.8 L357.6,235.8 L357.6,236.2 L359.6,236.2 L359.6,236.5 L361.5,236.5 L361.5,236.9 L362.0,236.9 L362.0,239.0 L362.6,239.0 L362.6,241.0 L363.1,241.0 L363.1,243.1 L364.9,243.1 L364.9,243.9 L366.7,243.9 L366.7,244.6 L368.5,244.6 L368.5,245.4 L369.1,245.4 L369.1,247.3 L369.8,247.3 L369.8,249.2 L370.4,249.2 L370.4,251.1 L371.0,251.1 L371.0,253.1 L371.7,253.1 L371.7,255.0 L372.3,255.0 L372.3,256.9 L376.2,256.9 L376.9,261.5 L383.1,261.5 L383.9,261.5 L383.9,263.1 L384.6,263.1 L384.6,264.6 L385.4,264.6 L385.4,266.2 L398.5,266.2 L398.5,271.9 L422.7,271.9 L422.7,282.3 L464.3,282.3" fill="none" stroke="#E8782E" stroke-width="1.8" stroke-linejoin="miter"/>
<path d="M321.2,186.4 L322.7,186.4 L322.7,187.8 L324.2,187.8 L324.2,189.2 L325.7,189.2 L325.7,190.7 L327.3,190.7 L327.3,192.3 L328.8,192.3 L328.8,193.8 L330.0,193.8 L330.0,195.7 L331.1,195.7 L331.1,197.7 L332.3,197.7 L332.3,199.6 L333.5,199.6 L333.5,201.5 L334.6,201.5 L334.6,203.4 L335.8,203.4 L335.8,205.3 L337.0,205.3 L337.0,207.3 L338.1,207.3 L338.1,209.2 L339.2,209.2 L339.2,210.9 L340.4,210.9 L340.4,212.7 L341.6,212.7 L341.6,214.4 L342.7,214.4 L342.7,216.2 L344.2,216.2 L344.2,217.6 L345.8,217.6 L345.8,219.1 L347.3,219.1 L347.3,220.5 L347.8,220.5 L347.8,222.3 L348.2,222.3 L348.2,224.1 L348.7,224.1 L348.7,225.9 L349.2,225.9 L349.2,227.7 L350.4,227.7 L350.4,229.6 L351.5,229.6 L351.5,231.6 L352.6,231.6 L352.6,233.5 L353.8,233.5 L353.8,235.4 L355.7,235.4 L355.7,235.8 L357.6,235.8 L357.6,236.2 L359.6,236.2 L359.6,236.5 L361.5,236.5 L361.5,236.9 L362.0,236.9 L362.0,239.0 L362.6,239.0 L362.6,241.0 L363.1,241.0 L363.1,243.1 L364.9,243.1 L364.9,243.9 L366.7,243.9 L366.7,244.6 L368.5,244.6 L368.5,245.4 L369.1,245.4 L369.1,247.3 L369.8,247.3 L369.8,249.2 L370.4,249.2 L370.4,251.1 L371.0,251.1 L371.0,253.1 L371.7,253.1 L371.7,255.0 L372.3,255.0 L372.3,256.9 M383.1,261.5 L383.9,261.5 L383.9,263.1 L384.6,263.1 L384.6,264.6 L385.4,264.6 L385.4,266.2" fill="none" stroke="#E8782E" stroke-width="2.6" stroke-linejoin="round"/>
<path d="M403.8,271.9 V269.1 M407.7,271.9 V269.1 M431.2,282.3 V279.5 M464.3,282.3 V279.5 M390.0,266.2 V263.4" fill="none" stroke="#E8782E" stroke-width="1.1"/>
<path d="M342.30,184.00 h6.9 M345.90,181.60 v2.4" stroke="#E8782E" stroke-width="1.4" fill="none"/>
<text x="351.70" y="186.80" class="lg">Others (<tspan font-style="italic">n</tspan> = 119)</text>
<path d="M342.30,197.60 h4.2 M346.50,195.20 v2.6" stroke="#528ACF" stroke-width="1.4" fill="none"/>
<text x="351.70" y="200.40" class="lg"><tspan font-style="italic">Cdk4</tspan> Gain + <tspan font-style="italic">P16</tspan><tspan font-size="6.8" dy="-3.3" font-style="italic">INK4a</tspan><tspan dy="3.3"> loss (<tspan font-style="italic">n</tspan> = 395)</tspan></text>
<text x="322.60" y="285.60" class="pv"><tspan font-style="italic">P</tspan> = 0.005</text>
</g>
<g id="pE">
<path d="M37.50,343.10 V472.10 H232.40" fill="none" stroke="#262626" stroke-width="1.1"/>
<path d="M35.50,472.10 H37.50 M35.50,448.60 H37.50 M35.50,425.10 H37.50 M35.50,401.60 H37.50 M35.50,378.10 H37.50 M35.50,354.60 H37.50 M37.50,472.10 V474.10 M86.22,472.10 V474.10 M134.95,472.10 V474.10 M183.68,472.10 V474.10 M232.40,472.10 V474.10" stroke="#262626" stroke-width="1.1"/>
<text x="35.00" y="475.30" text-anchor="end" class="tk">0.0</text>
<text x="35.00" y="451.80" text-anchor="end" class="tk">0.2</text>
<text x="35.00" y="428.30" text-anchor="end" class="tk">0.4</text>
<text x="35.00" y="404.80" text-anchor="end" class="tk">0.6</text>
<text x="35.00" y="381.30" text-anchor="end" class="tk">0.8</text>
<text x="35.00" y="357.80" text-anchor="end" class="tk">1.0</text>
<text x="37.50" y="482.70" text-anchor="middle" class="tk">0</text>
<text x="86.22" y="482.70" text-anchor="middle" class="tk">50</text>
<text x="134.95" y="482.70" text-anchor="middle" class="tk">100</text>
<text x="183.68" y="482.70" text-anchor="middle" class="tk">150</text>
<text x="232.40" y="482.70" text-anchor="middle" class="tk">200</text>
<text x="134.80" y="493.60" text-anchor="middle" class="lb">Time (months)</text>
<text transform="translate(13.20,407.00) rotate(-90)" text-anchor="middle" class="yl">Overall survival (proportion)</text>
<text x="0.80" y="344.70" class="let">E</text>
<path d="M37.5,354.5 L47.0,354.5 L48.5,354.5 L48.5,355.8 L50.0,355.8 L50.0,357.0 L50.5,357.0 L50.5,359.0 L50.9,359.0 L50.9,361.0 L51.4,361.0 L51.4,363.0 L53.4,363.0 L53.4,364.7 L55.5,364.7 L55.5,366.3 L57.5,366.3 L57.5,368.0 L60.6,368.0" fill="none" stroke="#528ACF" stroke-width="1.7" stroke-linejoin="miter"/>
<path d="M47.0,354.5 L48.5,354.5 L48.5,355.8 L50.0,355.8 L50.0,357.0 L50.5,357.0 L50.5,359.0 L50.9,359.0 L50.9,361.0 L51.4,361.0 L51.4,363.0 L53.4,363.0 L53.4,364.7 L55.5,364.7 L55.5,366.3 L57.5,366.3 L57.5,368.0" fill="none" stroke="#528ACF" stroke-width="1.8" stroke-linejoin="round"/>
<path d="M60.6,368.0 L60.6,374.9 L62.4,374.9 L62.4,376.2 L64.2,376.2 L64.2,377.5 L66.0,377.5 L66.0,378.8 L66.0,384.9 L66.6,384.9 L66.6,386.7 L67.3,386.7 L67.3,388.5 L67.9,388.5 L67.9,390.3 L68.5,390.3 L68.5,392.1 L69.2,392.1 L69.2,393.9 L69.8,393.9 L69.8,395.7 L70.2,395.7 L70.2,397.4 L70.7,397.4 L70.7,399.0 L71.1,399.0 L71.1,400.6 L71.5,400.6 L71.5,402.3 L72.5,402.3 L72.5,404.0 L73.5,404.0 L73.5,405.8 L74.4,405.8 L74.4,407.5 L75.4,407.5 L75.4,409.2 L81.5,410.0 L82.3,417.7 L83.1,426.2 L88.5,426.2 L88.5,431.5 L90.8,432.3 L90.8,437.7 L104.6,437.7 L104.6,443.1 L109.2,443.1 L109.2,450.8 L186.3,450.8 L186.3,472.0" fill="none" stroke="#528ACF" stroke-width="1.5" stroke-dasharray="5.5,1.7"/>
<path d="M159.4,450.8 V448.0" fill="none" stroke="#528ACF" stroke-width="1.1"/>
<path d="M37.5,354.5 L42.2,354.5 L43.7,354.5 L43.7,355.4 L45.3,355.4 L45.3,356.3 L46.8,356.3 L46.8,357.2 L48.3,357.2 L48.3,358.7 L49.9,358.7 L49.9,360.3 L51.4,360.3 L51.4,361.8 L52.5,361.8 L52.5,363.7 L53.7,363.7 L53.7,365.6 L54.9,365.6 L54.9,367.6 L56.0,367.6 L56.0,369.5 L57.1,369.5 L57.1,371.4 L58.3,371.4 L58.3,373.4 L59.5,373.4 L59.5,375.3 L60.6,375.3 L60.6,377.2 L61.8,377.2 L61.8,379.1 L63.1,379.1 L63.1,380.9 L64.3,380.9 L64.3,382.8 L65.6,382.8 L65.6,384.6 L66.8,384.6 L66.8,386.5 L68.3,386.5 L68.3,388.4 L69.8,388.4 L69.8,390.4 L71.4,390.4 L71.4,392.3 L72.9,392.3 L72.9,394.2 L74.2,394.2 L74.2,395.9 L75.4,395.9 L75.4,397.7 L76.2,397.7 L76.2,399.5 L76.9,399.5 L76.9,401.4 L77.7,401.4 L77.7,403.2 L78.4,403.2 L78.4,405.1 L79.2,405.1 L79.2,406.9 L80.3,406.9 L80.3,408.9 L81.5,408.9 L81.5,410.8 L83.4,410.8 L83.4,411.4 L85.3,411.4 L85.3,412.0 L87.3,412.0 L87.3,412.5 L89.2,412.5 L89.2,413.1 L90.2,413.1 L90.2,414.6 L91.3,414.6 L91.3,416.2 L92.3,416.2 L92.3,417.7 L94.2,417.7 L94.2,419.2 L96.2,419.2 L96.2,420.8 L97.0,420.8 L97.0,422.8 L97.7,422.8 L97.7,424.9 L98.5,424.9 L98.5,426.9 L99.3,426.9 L99.3,428.4 L100.0,428.4 L100.0,430.0 L100.8,430.0 L100.8,431.5 L102.3,431.5 L102.3,432.3 L103.9,432.3 L103.9,433.0 L105.4,433.0 L105.4,433.8 L107.1,433.8 L107.1,434.4 L108.8,434.4 L108.8,435.0 L110.6,435.0 L110.6,435.6 L112.3,435.6 L112.3,436.2 L113.8,436.2 L113.8,437.7 L115.4,437.7 L115.4,439.3 L116.9,439.3 L116.9,440.8 L131.5,440.8 L132.5,440.8 L132.5,442.8 L133.4,442.8 L133.4,444.9 L134.4,444.9 L134.4,446.9 L155.6,446.9 L155.8,446.9 L155.8,448.8 L155.9,448.8 L155.9,450.6 L156.1,450.6 L156.1,452.5 L156.2,452.5 L156.2,454.4 L156.4,454.4 L156.4,456.3 L156.6,456.3 L156.6,458.1 L156.7,458.1 L156.7,460.0 L156.9,460.0 L156.9,461.9 L203.7,461.9" fill="none" stroke="#E8782E" stroke-width="1.8" stroke-linejoin="miter"/>
<path d="M42.2,354.5 L43.7,354.5 L43.7,355.4 L45.3,355.4 L45.3,356.3 L46.8,356.3 L46.8,357.2 L48.3,357.2 L48.3,358.7 L49.9,358.7 L49.9,360.3 L51.4,360.3 L51.4,361.8 L52.5,361.8 L52.5,363.7 L53.7,363.7 L53.7,365.6 L54.9,365.6 L54.9,367.6 L56.0,367.6 L56.0,369.5 L57.1,369.5 L57.1,371.4 L58.3,371.4 L58.3,373.4 L59.5,373.4 L59.5,375.3 L60.6,375.3 L60.6,377.2 L61.8,377.2 L61.8,379.1 L63.1,379.1 L63.1,380.9 L64.3,380.9 L64.3,382.8 L65.6,382.8 L65.6,384.6 L66.8,384.6 L66.8,386.5 L68.3,386.5 L68.3,388.4 L69.8,388.4 L69.8,390.4 L71.4,390.4 L71.4,392.3 L72.9,392.3 L72.9,394.2 L74.2,394.2 L74.2,395.9 L75.4,395.9 L75.4,397.7 L76.2,397.7 L76.2,399.5 L76.9,399.5 L76.9,401.4 L77.7,401.4 L77.7,403.2 L78.4,403.2 L78.4,405.1 L79.2,405.1 L79.2,406.9 L80.3,406.9 L80.3,408.9 L81.5,408.9 L81.5,410.8 L83.4,410.8 L83.4,411.4 L85.3,411.4 L85.3,412.0 L87.3,412.0 L87.3,412.5 L89.2,412.5 L89.2,413.1 L90.2,413.1 L90.2,414.6 L91.3,414.6 L91.3,416.2 L92.3,416.2 L92.3,417.7 L94.2,417.7 L94.2,419.2 L96.2,419.2 L96.2,420.8 L97.0,420.8 L97.0,422.8 L97.7,422.8 L97.7,424.9 L98.5,424.9 L98.5,426.9 L99.3,426.9 L99.3,428.4 L100.0,428.4 L100.0,430.0 L100.8,430.0 L100.8,431.5 L102.3,431.5 L102.3,432.3 L103.9,432.3 L103.9,433.0 L105.4,433.0 L105.4,433.8 L107.1,433.8 L107.1,434.4 L108.8,434.4 L108.8,435.0 L110.6,435.0 L110.6,435.6 L112.3,435.6 L112.3,436.2 L113.8,436.2 L113.8,437.7 L115.4,437.7 L115.4,439.3 L116.9,439.3 L116.9,440.8 M131.5,440.8 L132.5,440.8 L132.5,442.8 L133.4,442.8 L133.4,444.9 L134.4,444.9 L134.4,446.9 M155.6,446.9 L155.8,446.9 L155.8,448.8 L155.9,448.8 L155.9,450.6 L156.1,450.6 L156.1,452.5 L156.2,452.5 L156.2,454.4 L156.4,454.4 L156.4,456.3 L156.6,456.3 L156.6,458.1 L156.7,458.1 L156.7,460.0 L156.9,460.0 L156.9,461.9" fill="none" stroke="#E8782E" stroke-width="2.6" stroke-linejoin="round"/>
<path d="M131.5,440.8 V438.0 M140.2,446.9 V444.1 M167.1,461.9 V459.1 M203.7,461.9 V459.1" fill="none" stroke="#E8782E" stroke-width="1.1"/>
<path d="M64.60,353.30 h6.9 M68.20,350.90 v2.4" stroke="#E8782E" stroke-width="1.4" fill="none"/>
<text x="75.60" y="356.10" class="lg"><tspan font-style="italic">Cdk4</tspan> Normal + <tspan font-style="italic">Ccnd1</tspan> normal (<tspan font-style="italic">n</tspan> = 441)</text>
<path d="M64.60,364.80 h4.2 M68.80,362.40 v2.6" stroke="#528ACF" stroke-width="1.4" fill="none"/>
<text x="75.60" y="367.60" class="lg"><tspan font-style="italic">Cdk4</tspan> Gain + <tspan font-style="italic">Ccnd1</tspan> gain (<tspan font-style="italic">n</tspan> = 73)</text>
<text x="42.90" y="451.80" class="pv"><tspan font-style="italic">P</tspan> = 0.743</text>
</g>
<g id="pF">
<path d="M316.20,342.80 V471.80 H511.10" fill="none" stroke="#262626" stroke-width="1.1"/>
<path d="M314.20,471.80 H316.20 M314.20,448.30 H316.20 M314.20,424.80 H316.20 M314.20,401.30 H316.20 M314.20,377.80 H316.20 M314.20,354.30 H316.20 M316.20,471.80 V473.80 M364.93,471.80 V473.80 M413.65,471.80 V473.80 M462.38,471.80 V473.80 M511.10,471.80 V473.80" stroke="#262626" stroke-width="1.1"/>
<text x="313.70" y="475.00" text-anchor="end" class="tk">0.0</text>
<text x="313.70" y="451.50" text-anchor="end" class="tk">0.2</text>
<text x="313.70" y="428.00" text-anchor="end" class="tk">0.4</text>
<text x="313.70" y="404.50" text-anchor="end" class="tk">0.6</text>
<text x="313.70" y="381.00" text-anchor="end" class="tk">0.8</text>
<text x="313.70" y="357.50" text-anchor="end" class="tk">1.0</text>
<text x="316.20" y="482.40" text-anchor="middle" class="tk">0</text>
<text x="364.93" y="482.40" text-anchor="middle" class="tk">50</text>
<text x="413.65" y="482.40" text-anchor="middle" class="tk">100</text>
<text x="462.38" y="482.40" text-anchor="middle" class="tk">150</text>
<text x="511.10" y="482.40" text-anchor="middle" class="tk">200</text>
<text x="413.50" y="493.30" text-anchor="middle" class="lb">Time (months)</text>
<text transform="translate(291.90,407.00) rotate(-90)" text-anchor="middle" class="yl">Overall survival (proportion)</text>
<text x="285.20" y="344.60" class="let">F</text>
<path d="M316.2,354.3 L321.0,354.5 L322.6,354.5 L322.6,356.6 L324.2,356.6 L324.2,358.8 L325.7,358.8 L325.7,360.8 L327.3,360.8 L327.3,362.9 L328.8,362.9 L328.8,364.9 L330.0,364.9 L330.0,366.8 L331.3,366.8 L331.3,368.6 L332.5,368.6 L332.5,370.5 L333.8,370.5 L333.8,372.3 L335.0,372.3 L335.0,374.2 L336.4,374.2 L336.4,376.2 L337.8,376.2 L337.8,378.1 L339.2,378.1 L339.2,380.1 L340.6,380.1 L340.6,382.0 L342.0,382.0 L342.0,384.0 L343.1,384.0 L343.1,385.7 L344.3,385.7 L344.3,387.4 L345.4,387.4 L345.4,389.1 L346.5,389.1 L346.5,390.8 L347.7,390.8 L347.7,392.5 L348.8,392.5 L348.8,394.2 L350.0,394.2 L350.0,396.1 L351.1,396.1 L351.1,398.0 L352.3,398.0 L352.3,399.9 L353.5,399.9 L353.5,401.8 L354.6,401.8 L354.6,403.7 L355.8,403.7 L355.8,405.6 L357.0,405.6 L357.0,407.6 L358.1,407.6 L358.1,409.5 L358.6,409.5 L358.6,411.5 L359.1,411.5 L359.1,413.4 L359.6,413.4 L359.6,415.4 L360.1,415.4 L360.1,417.3 L360.6,417.3 L360.6,419.2 L361.1,419.2 L361.1,421.1 L361.5,421.1 L361.5,423.1 L362.0,423.1 L362.0,425.0 L362.5,425.0 L362.5,426.9" fill="none" stroke="#528ACF" stroke-width="1.7" stroke-linejoin="miter"/>
<path d="M321.0,354.5 L322.6,354.5 L322.6,356.6 L324.2,356.6 L324.2,358.8 L325.7,358.8 L325.7,360.8 L327.3,360.8 L327.3,362.9 L328.8,362.9 L328.8,364.9 L330.0,364.9 L330.0,366.8 L331.3,366.8 L331.3,368.6 L332.5,368.6 L332.5,370.5 L333.8,370.5 L333.8,372.3 L335.0,372.3 L335.0,374.2 L336.4,374.2 L336.4,376.2 L337.8,376.2 L337.8,378.1 L339.2,378.1 L339.2,380.1 L340.6,380.1 L340.6,382.0 L342.0,382.0 L342.0,384.0 L343.1,384.0 L343.1,385.7 L344.3,385.7 L344.3,387.4 L345.4,387.4 L345.4,389.1 L346.5,389.1 L346.5,390.8 L347.7,390.8 L347.7,392.5 L348.8,392.5 L348.8,394.2 L350.0,394.2 L350.0,396.1 L351.1,396.1 L351.1,398.0 L352.3,398.0 L352.3,399.9 L353.5,399.9 L353.5,401.8 L354.6,401.8 L354.6,403.7 L355.8,403.7 L355.8,405.6 L357.0,405.6 L357.0,407.6 L358.1,407.6 L358.1,409.5 L358.6,409.5 L358.6,411.5 L359.1,411.5 L359.1,413.4 L359.6,413.4 L359.6,415.4 L360.1,415.4 L360.1,417.3 L360.6,417.3 L360.6,419.2 L361.1,419.2 L361.1,421.1 L361.5,421.1 L361.5,423.1 L362.0,423.1 L362.0,425.0 L362.5,425.0 L362.5,426.9" fill="none" stroke="#528ACF" stroke-width="1.8" stroke-linejoin="round"/>
<path d="M362.5,426.9 L371.2,426.9 L371.2,431.7 L379.8,431.7 L379.8,437.5 L384.6,437.5 L384.6,442.3 L389.4,442.3 L389.4,446.6 L464.9,446.6 L464.9,471.8" fill="none" stroke="#528ACF" stroke-width="1.5" stroke-dasharray="5.5,1.7"/>
<path d="M396.2,446.6 V443.8 M438.5,446.6 V443.8 M446.2,446.6 V443.8" fill="none" stroke="#528ACF" stroke-width="1.1"/>
<path d="M316.2,354.3 L322.7,354.3 L324.2,354.3 L324.2,355.8 L325.8,355.8 L325.8,357.3 L327.3,357.3 L327.3,358.8 L329.1,358.8 L329.1,360.3 L330.9,360.3 L330.9,361.9 L332.7,361.9 L332.7,363.4 L333.6,363.4 L333.6,365.2 L334.5,365.2 L334.5,367.0 L335.4,367.0 L335.4,368.8 L336.3,368.8 L336.3,370.6 L337.2,370.6 L337.2,372.4 L338.1,372.4 L338.1,374.2 L339.3,374.2 L339.3,376.0 L340.5,376.0 L340.5,377.9 L341.8,377.9 L341.8,379.7 L343.0,379.7 L343.0,381.6 L344.2,381.6 L344.2,383.4 L345.8,383.4 L345.8,385.3 L347.3,385.3 L347.3,387.2 L348.8,387.2 L348.8,389.2 L350.4,389.2 L350.4,391.1 L351.8,391.1 L351.8,393.0 L353.1,393.0 L353.1,395.0 L354.4,395.0 L354.4,396.9 L355.8,396.9 L355.8,398.8 L356.4,398.8 L356.4,400.8 L357.0,400.8 L357.0,402.8 L357.5,402.8 L357.5,404.7 L358.1,404.7 L358.1,406.7 L358.7,406.7 L358.7,408.7 L360.6,408.7 L360.6,409.3 L362.5,409.3 L362.5,409.8 L364.5,409.8 L364.5,410.4 L366.4,410.4 L366.4,410.9 L368.3,410.9 L368.3,411.5 L368.8,411.5 L368.8,413.2 L369.2,413.2 L369.2,414.9 L369.7,414.9 L369.7,416.6 L370.2,416.6 L370.2,418.3 L372.1,418.3 L372.1,419.9 L374.1,419.9 L374.1,421.5 L376.0,421.5 L376.0,423.1 L376.7,423.1 L376.7,424.8 L377.4,424.8 L377.4,426.5 L378.1,426.5 L378.1,428.1 L378.8,428.1 L378.8,429.8 L380.4,429.8 L380.4,430.4 L382.1,430.4 L382.1,431.1 L383.7,431.1 L383.7,431.7 L385.1,431.7 L385.1,433.6 L386.5,433.6 L386.5,435.6 L391.3,435.6 L392.6,435.6 L392.6,437.2 L393.9,437.2 L393.9,438.8 L395.2,438.8 L395.2,440.4 L401.0,441.3 L409.6,441.3 L410.6,441.3 L410.6,442.8 L411.5,442.8 L411.5,444.2 L413.4,444.2 L413.4,445.9 L415.4,445.9 L415.4,447.7 L434.6,447.7 L434.8,447.7 L434.8,449.5 L434.9,449.5 L434.9,451.3 L435.1,451.3 L435.1,453.1 L435.2,453.1 L435.2,454.9 L435.4,454.9 L435.4,456.7 L435.6,456.7 L435.6,458.5 L435.7,458.5 L435.7,460.3 L435.9,460.3 L435.9,462.1 L436.0,462.1 L436.0,463.9 L436.2,463.9 L436.2,465.7 L482.8,465.7" fill="none" stroke="#E8782E" stroke-width="1.8" stroke-linejoin="miter"/>
<path d="M322.7,354.3 L324.2,354.3 L324.2,355.8 L325.8,355.8 L325.8,357.3 L327.3,357.3 L327.3,358.8 L329.1,358.8 L329.1,360.3 L330.9,360.3 L330.9,361.9 L332.7,361.9 L332.7,363.4 L333.6,363.4 L333.6,365.2 L334.5,365.2 L334.5,367.0 L335.4,367.0 L335.4,368.8 L336.3,368.8 L336.3,370.6 L337.2,370.6 L337.2,372.4 L338.1,372.4 L338.1,374.2 L339.3,374.2 L339.3,376.0 L340.5,376.0 L340.5,377.9 L341.8,377.9 L341.8,379.7 L343.0,379.7 L343.0,381.6 L344.2,381.6 L344.2,383.4 L345.8,383.4 L345.8,385.3 L347.3,385.3 L347.3,387.2 L348.8,387.2 L348.8,389.2 L350.4,389.2 L350.4,391.1 L351.8,391.1 L351.8,393.0 L353.1,393.0 L353.1,395.0 L354.4,395.0 L354.4,396.9 L355.8,396.9 L355.8,398.8 L356.4,398.8 L356.4,400.8 L357.0,400.8 L357.0,402.8 L357.5,402.8 L357.5,404.7 L358.1,404.7 L358.1,406.7 L358.7,406.7 L358.7,408.7 L360.6,408.7 L360.6,409.3 L362.5,409.3 L362.5,409.8 L364.5,409.8 L364.5,410.4 L366.4,410.4 L366.4,410.9 L368.3,410.9 L368.3,411.5 L368.8,411.5 L368.8,413.2 L369.2,413.2 L369.2,414.9 L369.7,414.9 L369.7,416.6 L370.2,416.6 L370.2,418.3 L372.1,418.3 L372.1,419.9 L374.1,419.9 L374.1,421.5 L376.0,421.5 L376.0,423.1 L376.7,423.1 L376.7,424.8 L377.4,424.8 L377.4,426.5 L378.1,426.5 L378.1,428.1 L378.8,428.1 L378.8,429.8 L380.4,429.8 L380.4,430.4 L382.1,430.4 L382.1,431.1 L383.7,431.1 L383.7,431.7 L385.1,431.7 L385.1,433.6 L386.5,433.6 L386.5,435.6 M391.3,435.6 L392.6,435.6 L392.6,437.2 L393.9,437.2 L393.9,438.8 L395.2,438.8 L395.2,440.4 M409.6,441.3 L410.6,441.3 L410.6,442.8 L411.5,442.8 L411.5,444.2 L413.4,444.2 L413.4,445.9 L415.4,445.9 L415.4,447.7 M434.6,447.7 L434.8,447.7 L434.8,449.5 L434.9,449.5 L434.9,451.3 L435.1,451.3 L435.1,453.1 L435.2,453.1 L435.2,454.9 L435.4,454.9 L435.4,456.7 L435.6,456.7 L435.6,458.5 L435.7,458.5 L435.7,460.3 L435.9,460.3 L435.9,462.1 L436.0,462.1 L436.0,463.9 L436.2,463.9 L436.2,465.7" fill="none" stroke="#E8782E" stroke-width="2.6" stroke-linejoin="round"/>
<path d="M482.8,465.7 V462.9 M425.0,447.7 V444.9" fill="none" stroke="#E8782E" stroke-width="1.1"/>
<path d="M342.30,353.00 h6.9 M345.90,350.60 v2.4" stroke="#E8782E" stroke-width="1.4" fill="none"/>
<text x="351.70" y="355.80" class="lg"><tspan font-style="italic">P16</tspan><tspan font-size="6.8" dy="-3.3" font-style="italic">INK4a</tspan><tspan dy="3.3"> Normal + <tspan font-style="italic">Ccnd1</tspan> normal (<tspan font-style="italic">n</tspan> = 437)</tspan></text>
<path d="M342.30,365.20 h4.2 M346.50,362.80 v2.6" stroke="#528ACF" stroke-width="1.4" fill="none"/>
<text x="351.70" y="368.00" class="lg"><tspan font-style="italic">P16</tspan><tspan font-size="6.8" dy="-3.3" font-style="italic">INK4a</tspan><tspan dy="3.3"> Loss + <tspan font-style="italic">Ccnd1</tspan> gain (<tspan font-style="italic">n</tspan> = 77)</tspan></text>
<text x="322.60" y="451.80" class="pv"><tspan font-style="italic">P</tspan> = 0.674</text>
</g>
<g id="pG">
<path d="M37.50,510.80 V639.80 H232.40" fill="none" stroke="#262626" stroke-width="1.1"/>
<path d="M35.50,639.80 H37.50 M35.50,616.30 H37.50 M35.50,592.80 H37.50 M35.50,569.30 H37.50 M35.50,545.80 H37.50 M35.50,522.30 H37.50 M37.50,639.80 V641.80 M86.22,639.80 V641.80 M134.95,639.80 V641.80 M183.68,639.80 V641.80 M232.40,639.80 V641.80" stroke="#262626" stroke-width="1.1"/>
<text x="35.00" y="643.00" text-anchor="end" class="tk">0.0</text>
<text x="35.00" y="619.50" text-anchor="end" class="tk">0.2</text>
<text x="35.00" y="596.00" text-anchor="end" class="tk">0.4</text>
<text x="35.00" y="572.50" text-anchor="end" class="tk">0.6</text>
<text x="35.00" y="549.00" text-anchor="end" class="tk">0.8</text>
<text x="35.00" y="525.50" text-anchor="end" class="tk">1.0</text>
<text x="37.50" y="650.40" text-anchor="middle" class="tk">0</text>
<text x="86.22" y="650.40" text-anchor="middle" class="tk">50</text>
<text x="134.95" y="650.40" text-anchor="middle" class="tk">100</text>
<text x="183.68" y="650.40" text-anchor="middle" class="tk">150</text>
<text x="232.40" y="650.40" text-anchor="middle" class="tk">200</text>
<text x="134.80" y="661.30" text-anchor="middle" class="lb">Time (months)</text>
<text transform="translate(13.20,573.60) rotate(-90)" text-anchor="middle" class="yl">Overall survival (proportion)</text>
<text x="0.80" y="512.30" class="let">G</text>
<path d="M37.5,522.3 L47.0,522.3" fill="none" stroke="#528ACF" stroke-width="1.7" stroke-linejoin="miter"/>
<path d="M47.0,522.3 L48.5,522.3 L48.5,524.0 L49.9,524.0 L49.9,525.6 L51.4,525.6 L51.4,527.3 L52.0,527.3 L52.0,529.2 L52.5,529.2 L52.5,531.1 L53.1,531.1 L53.1,533.1 L53.7,533.1 L53.7,535.0 L54.1,535.0 L54.1,536.9 L54.5,536.9 L54.5,538.9 L54.8,538.9 L54.8,540.8 L55.2,540.8 L55.2,542.7 L60.6,542.7 L60.8,542.7 L60.8,544.4 L61.0,544.4 L61.0,546.2 L61.2,546.2 L61.2,547.9 L61.4,547.9 L61.4,549.6 L61.6,549.6 L61.6,551.3 L61.8,551.3 L61.8,553.0 L62.0,553.0 L62.0,554.8 L62.2,554.8 L62.2,556.5 L66.8,556.5 L66.8,559.6 L67.4,559.6 L67.4,561.5 L67.9,561.5 L67.9,563.5 L68.5,563.5 L68.5,565.4 L69.1,565.4 L69.1,567.3 L69.6,567.3 L69.6,569.4 L70.1,569.4 L70.1,571.4 L70.6,571.4 L70.6,573.5 L71.0,573.5 L71.0,575.4 L71.4,575.4 L71.4,577.4 L71.8,577.4 L71.8,579.3 L72.2,579.3 L72.2,581.2 L72.3,584.6 L73.1,584.6 L73.1,586.1 L73.8,586.1 L73.8,587.7 L74.6,587.7 L74.6,589.2 L80.0,589.2 L80.0,596.9 L83.1,596.9 L83.1,608.5 L90.8,608.5 L90.8,613.8 L104.6,613.8 L104.6,620.8 L109.2,620.8 L109.2,626.9 L185.4,626.9 L185.4,639.8" fill="none" stroke="#528ACF" stroke-width="1.5" stroke-dasharray="5.5,1.7"/>
<path d="M159.4,626.9 V624.1" fill="none" stroke="#528ACF" stroke-width="1.1"/>
<path d="M37.5,522.3 L42.2,522.3 L43.7,522.3 L43.7,522.9 L45.2,522.9 L45.2,523.5 L46.7,523.5 L46.7,525.3 L48.3,525.3 L48.3,527.0 L49.8,527.0 L49.8,528.8 L51.4,528.8 L51.4,530.9 L52.9,530.9 L52.9,532.9 L54.5,532.9 L54.5,535.0 L56.0,535.0 L56.0,536.9 L57.5,536.9 L57.5,538.9 L59.1,538.9 L59.1,540.8 L60.6,540.8 L60.6,542.7 L61.8,542.7 L61.8,544.5 L63.1,544.5 L63.1,546.4 L64.3,546.4 L64.3,548.2 L65.6,548.2 L65.6,550.1 L66.8,550.1 L66.8,551.9 L67.7,551.9 L67.7,553.5 L68.7,553.5 L68.7,555.1 L69.6,555.1 L69.6,556.8 L70.6,556.8 L70.6,558.4 L71.5,558.4 L71.5,560.0 L73.3,560.0 L73.3,562.1 L75.1,562.1 L75.1,564.1 L76.9,564.1 L76.9,566.2 L77.7,566.2 L77.7,568.2 L78.4,568.2 L78.4,570.3 L79.2,570.3 L79.2,572.3 L80.0,572.3 L80.0,574.1 L80.7,574.1 L80.7,575.9 L81.5,575.9 L81.5,577.7 L88.5,578.5 L89.3,578.5 L89.3,580.5 L90.0,580.5 L90.0,582.6 L90.8,582.6 L90.8,584.6 L93.1,584.6 L93.1,586.9 L94.4,586.9 L94.4,588.7 L95.6,588.7 L95.6,590.5 L96.9,590.5 L96.9,592.3 L98.2,592.3 L98.2,594.4 L99.5,594.4 L99.5,596.4 L100.8,596.4 L100.8,598.5 L102.6,598.5 L102.6,599.5 L104.4,599.5 L104.4,600.5 L106.2,600.5 L106.2,601.5 L108.1,601.5 L108.1,602.3 L110.0,602.3 L110.0,603.0 L111.9,603.0 L111.9,603.8 L113.8,603.8 L113.8,604.6 L115.8,604.6 L115.8,606.0 L117.7,606.0 L117.7,607.3 L130.6,607.3 L130.6,610.2 L132.2,610.2 L132.2,611.5 L133.8,611.5 L133.8,612.7 L135.4,612.7 L135.4,614.0 L155.6,614.0 L155.8,614.0 L155.8,615.7 L156.0,615.7 L156.0,617.4 L156.2,617.4 L156.2,619.1 L156.4,619.1 L156.4,620.8 L156.7,620.8 L156.7,622.6 L156.9,622.6 L156.9,624.3 L157.1,624.3 L157.1,626.0 L157.3,626.0 L157.3,627.7 L157.5,627.7 L157.5,629.4 L203.7,629.4" fill="none" stroke="#E8782E" stroke-width="1.8" stroke-linejoin="miter"/>
<path d="M42.2,522.3 L43.7,522.3 L43.7,522.9 L45.2,522.9 L45.2,523.5 L46.7,523.5 L46.7,525.3 L48.3,525.3 L48.3,527.0 L49.8,527.0 L49.8,528.8 L51.4,528.8 L51.4,530.9 L52.9,530.9 L52.9,532.9 L54.5,532.9 L54.5,535.0 L56.0,535.0 L56.0,536.9 L57.5,536.9 L57.5,538.9 L59.1,538.9 L59.1,540.8 L60.6,540.8 L60.6,542.7 L61.8,542.7 L61.8,544.5 L63.1,544.5 L63.1,546.4 L64.3,546.4 L64.3,548.2 L65.6,548.2 L65.6,550.1 L66.8,550.1 L66.8,551.9 L67.7,551.9 L67.7,553.5 L68.7,553.5 L68.7,555.1 L69.6,555.1 L69.6,556.8 L70.6,556.8 L70.6,558.4 L71.5,558.4 L71.5,560.0 L73.3,560.0 L73.3,562.1 L75.1,562.1 L75.1,564.1 L76.9,564.1 L76.9,566.2 L77.7,566.2 L77.7,568.2 L78.4,568.2 L78.4,570.3 L79.2,570.3 L79.2,572.3 L80.0,572.3 L80.0,574.1 L80.7,574.1 L80.7,575.9 L81.5,575.9 L81.5,577.7 M88.5,578.5 L89.3,578.5 L89.3,580.5 L90.0,580.5 L90.0,582.6 L90.8,582.6 L90.8,584.6 L93.1,584.6 L93.1,586.9 L94.4,586.9 L94.4,588.7 L95.6,588.7 L95.6,590.5 L96.9,590.5 L96.9,592.3 L98.2,592.3 L98.2,594.4 L99.5,594.4 L99.5,596.4 L100.8,596.4 L100.8,598.5 L102.6,598.5 L102.6,599.5 L104.4,599.5 L104.4,600.5 L106.2,600.5 L106.2,601.5 L108.1,601.5 L108.1,602.3 L110.0,602.3 L110.0,603.0 L111.9,603.0 L111.9,603.8 L113.8,603.8 L113.8,604.6 L115.8,604.6 L115.8,606.0 L117.7,606.0 L117.7,607.3 M130.6,610.2 L132.2,610.2 L132.2,611.5 L133.8,611.5 L133.8,612.7 L135.4,612.7 L135.4,614.0 M155.6,614.0 L155.8,614.0 L155.8,615.7 L156.0,615.7 L156.0,617.4 L156.2,617.4 L156.2,619.1 L156.4,619.1 L156.4,620.8 L156.7,620.8 L156.7,622.6 L156.9,622.6 L156.9,624.3 L157.1,624.3 L157.1,626.0 L157.3,626.0 L157.3,627.7 L157.5,627.7 L157.5,629.4" fill="none" stroke="#E8782E" stroke-width="2.6" stroke-linejoin="round"/>
<path d="M140.2,614.0 V611.2 M167.1,629.4 V626.6 M203.7,629.4 V626.6 M126.0,607.3 V604.5" fill="none" stroke="#E8782E" stroke-width="1.1"/>
<path d="M62.30,520.30 h6.9 M65.90,517.90 v2.4" stroke="#E8782E" stroke-width="1.4" fill="none"/>
<text x="73.20" y="523.10" class="lg">&lt;3 CNVs (<tspan font-style="italic">n</tspan> = 470)</text>
<path d="M62.30,531.80 h4.2 M66.50,529.40 v2.6" stroke="#528ACF" stroke-width="1.4" fill="none"/>
<text x="73.20" y="534.60" class="lg"><tspan font-style="italic">Cdk4</tspan> Gain + <tspan font-style="italic">P16</tspan><tspan font-size="6.8" dy="-3.3" font-style="italic">INK4a</tspan><tspan dy="3.3"> loss + <tspan font-style="italic">Ccnd1</tspan> gain (<tspan font-style="italic">n</tspan> = 44)</tspan></text>
<text x="42.90" y="620.00" class="pv"><tspan font-style="italic">P</tspan> = 0.129</text>
</g>
<g id="pH">
<path d="M316.20,510.80 V639.80 H511.10" fill="none" stroke="#262626" stroke-width="1.1"/>
<path d="M314.20,639.80 H316.20 M314.20,616.30 H316.20 M314.20,592.80 H316.20 M314.20,569.30 H316.20 M314.20,545.80 H316.20 M314.20,522.30 H316.20 M316.20,639.80 V641.80 M364.93,639.80 V641.80 M413.65,639.80 V641.80 M462.38,639.80 V641.80 M511.10,639.80 V641.80" stroke="#262626" stroke-width="1.1"/>
<text x="313.70" y="643.00" text-anchor="end" class="tk">0.0</text>
<text x="313.70" y="619.50" text-anchor="end" class="tk">0.2</text>
<text x="313.70" y="596.00" text-anchor="end" class="tk">0.4</text>
<text x="313.70" y="572.50" text-anchor="end" class="tk">0.6</text>
<text x="313.70" y="549.00" text-anchor="end" class="tk">0.8</text>
<text x="313.70" y="525.50" text-anchor="end" class="tk">1.0</text>
<text x="316.20" y="650.40" text-anchor="middle" class="tk">0</text>
<text x="364.93" y="650.40" text-anchor="middle" class="tk">50</text>
<text x="413.65" y="650.40" text-anchor="middle" class="tk">100</text>
<text x="462.38" y="650.40" text-anchor="middle" class="tk">150</text>
<text x="511.10" y="650.40" text-anchor="middle" class="tk">200</text>
<text x="413.50" y="661.30" text-anchor="middle" class="lb">Time (months)</text>
<text transform="translate(291.90,576.55) rotate(-90)" text-anchor="middle" class="yl">Overall survival (proportion)</text>
<text x="285.20" y="511.90" class="let">H</text>
<path d="M316.2,522.3 L323.5,522.3 L324.8,522.3 L324.8,524.2 L326.0,524.2 L326.0,526.1 L327.3,526.1 L327.3,528.0 L328.3,528.0 L328.3,529.8 L329.4,529.8 L329.4,531.7 L330.4,531.7 L330.4,533.5 L331.5,533.5 L331.5,535.4 L332.7,535.4 L332.7,537.4 L333.9,537.4 L333.9,539.3 L335.0,539.3 L335.0,541.2 L336.0,541.2 L336.0,542.7 L337.1,542.7 L337.1,544.3 L338.1,544.3 L338.1,545.8 L340.1,545.8 L340.1,547.6 L342.2,547.6 L342.2,549.4 L344.2,549.4 L344.2,551.2 L347.3,551.9 L351.2,551.9 L351.2,556.5 L368.8,556.5 L368.8,565.8 L376.7,565.8 L376.7,577.7 L415.4,577.7" fill="none" stroke="#E8782E" stroke-width="1.8" stroke-linejoin="miter"/>
<path d="M323.5,522.3 L324.8,522.3 L324.8,524.2 L326.0,524.2 L326.0,526.1 L327.3,526.1 L327.3,528.0 L328.3,528.0 L328.3,529.8 L329.4,529.8 L329.4,531.7 L330.4,531.7 L330.4,533.5 L331.5,533.5 L331.5,535.4 L332.7,535.4 L332.7,537.4 L333.9,537.4 L333.9,539.3 L335.0,539.3 L335.0,541.2 L336.0,541.2 L336.0,542.7 L337.1,542.7 L337.1,544.3 L338.1,544.3 L338.1,545.8 L340.1,545.8 L340.1,547.6 L342.2,547.6 L342.2,549.4 L344.2,549.4 L344.2,551.2" fill="none" stroke="#E8782E" stroke-width="2.0" stroke-linejoin="round"/>
<path d="M358.0,556.5 V553.7 M361.2,556.5 V553.7 M371.2,565.8 V563.0 M375.0,565.8 V563.0 M388.5,577.7 V574.9 M394.2,577.7 V574.9 M399.0,577.7 V574.9 M415.4,577.7 V574.9 M349.0,551.9 V549.1" fill="none" stroke="#E8782E" stroke-width="1.1"/>
<path d="M316.2,522.3 L323.5,522.3 L325.4,522.3 L325.4,524.4 L327.3,524.4 L327.3,526.5 L328.8,526.5 L328.8,528.3 L330.4,528.3 L330.4,530.1 L331.9,530.1 L331.9,531.9 L332.9,531.9 L332.9,533.7 L334.0,533.7 L334.0,535.5 L335.0,535.5 L335.0,537.3 L336.0,537.3 L336.0,539.1 L337.1,539.1 L337.1,540.9 L338.1,540.9 L338.1,542.7 L339.2,542.7 L339.2,544.5 L340.3,544.5 L340.3,546.2 L341.4,546.2 L341.4,548.0 L342.5,548.0 L342.5,549.7 L343.6,549.7 L343.6,551.5 L344.7,551.5 L344.7,553.2 L345.8,553.2 L345.8,555.0 L347.0,555.0 L347.0,556.8 L348.2,556.8 L348.2,558.7 L349.5,558.7 L349.5,560.5 L350.7,560.5 L350.7,562.4 L351.9,562.4 L351.9,564.2 L352.7,564.2 L352.7,566.0 L353.4,566.0 L353.4,567.7 L354.2,567.7 L354.2,569.5 L355.0,569.5 L355.0,571.2 L355.8,571.2 L355.8,572.9 L356.5,572.9 L356.5,574.6 L357.3,574.6 L357.3,576.4 L358.1,576.4 L358.1,578.1 L358.8,578.1 L358.8,579.8 L359.6,579.8 L359.6,581.5 L361.0,581.5 L361.0,583.0 L362.3,583.0 L362.3,584.6 L363.7,584.6 L363.7,586.1 L367.7,586.1 L368.6,586.1 L368.6,587.9 L369.4,587.9 L369.4,589.6 L370.2,589.6 L370.2,591.4 L371.1,591.4 L371.1,593.1 L373.1,593.1 L373.1,595.1 L375.1,595.1 L375.1,597.1 L377.2,597.1 L377.2,599.1 L379.2,599.1 L379.2,601.1 L382.7,602.3 L383.5,602.3 L383.5,603.8 L384.2,603.8 L384.2,605.4 L385.0,605.4 L385.0,606.9 L386.8,606.9 L386.8,607.8 L388.7,607.8 L388.7,608.7 L390.5,608.7 L390.5,609.7 L392.4,609.7 L392.4,610.6 L394.2,610.6 L394.2,611.5 L395.9,611.5 L395.9,612.4 L397.7,612.4 L397.7,613.3 L406.9,613.8 L408.5,613.8 L408.5,614.5 L410.2,614.5 L410.2,615.1 L411.9,615.1 L411.9,615.8 L413.5,615.8 L413.5,616.5" fill="none" stroke="#528ACF" stroke-width="1.7" stroke-linejoin="miter"/>
<path d="M323.5,522.3 L325.4,522.3 L325.4,524.4 L327.3,524.4 L327.3,526.5 L328.8,526.5 L328.8,528.3 L330.4,528.3 L330.4,530.1 L331.9,530.1 L331.9,531.9 L332.9,531.9 L332.9,533.7 L334.0,533.7 L334.0,535.5 L335.0,535.5 L335.0,537.3 L336.0,537.3 L336.0,539.1 L337.1,539.1 L337.1,540.9 L338.1,540.9 L338.1,542.7 L339.2,542.7 L339.2,544.5 L340.3,544.5 L340.3,546.2 L341.4,546.2 L341.4,548.0 L342.5,548.0 L342.5,549.7 L343.6,549.7 L343.6,551.5 L344.7,551.5 L344.7,553.2 L345.8,553.2 L345.8,555.0 L347.0,555.0 L347.0,556.8 L348.2,556.8 L348.2,558.7 L349.5,558.7 L349.5,560.5 L350.7,560.5 L350.7,562.4 L351.9,562.4 L351.9,564.2 L352.7,564.2 L352.7,566.0 L353.4,566.0 L353.4,567.7 L354.2,567.7 L354.2,569.5 L355.0,569.5 L355.0,571.2 L355.8,571.2 L355.8,572.9 L356.5,572.9 L356.5,574.6 L357.3,574.6 L357.3,576.4 L358.1,576.4 L358.1,578.1 L358.8,578.1 L358.8,579.8 L359.6,579.8 L359.6,581.5 L361.0,581.5 L361.0,583.0 L362.3,583.0 L362.3,584.6 L363.7,584.6 L363.7,586.1 M367.7,586.1 L368.6,586.1 L368.6,587.9 L369.4,587.9 L369.4,589.6 L370.2,589.6 L370.2,591.4 L371.1,591.4 L371.1,593.1 L373.1,593.1 L373.1,595.1 L375.1,595.1 L375.1,597.1 L377.2,597.1 L377.2,599.1 L379.2,599.1 L379.2,601.1 M382.7,602.3 L383.5,602.3 L383.5,603.8 L384.2,603.8 L384.2,605.4 L385.0,605.4 L385.0,606.9 L386.8,606.9 L386.8,607.8 L388.7,607.8 L388.7,608.7 L390.5,608.7 L390.5,609.7 L392.4,609.7 L392.4,610.6 L394.2,610.6 L394.2,611.5 L395.9,611.5 L395.9,612.4 L397.7,612.4 L397.7,613.3 M406.9,613.8 L408.5,613.8 L408.5,614.5 L410.2,614.5 L410.2,615.1 L411.9,615.1 L411.9,615.8 L413.5,615.8 L413.5,616.5" fill="none" stroke="#528ACF" stroke-width="2.5" stroke-linejoin="round"/>
<path d="M413.5,616.5 L415.8,616.5 L415.8,617.5 L418.0,617.5 L418.0,618.5 L434.6,618.5 L435.1,618.5 L435.1,620.3 L435.5,620.3 L435.5,622.2 L436.0,622.2 L436.0,624.0 L436.4,624.0 L436.4,625.9 L436.9,625.9 L436.9,627.7 L464.6,627.7 L464.6,633.1 L483.1,633.1" fill="none" stroke="#528ACF" stroke-width="1.5" stroke-dasharray="5.5,1.7"/>
<path d="M438.5,627.7 V624.9 M446.2,627.7 V624.9 M483.1,633.1 V630.3 M420.0,618.5 V615.7" fill="none" stroke="#528ACF" stroke-width="1.1"/>
<path d="M343.00,520.30 h6.9 M346.60,517.90 v2.4" stroke="#E8782E" stroke-width="1.4" fill="none"/>
<text x="354.00" y="523.10" class="lg">No CNV&#160; aberration (<tspan font-style="italic">n</tspan> = 81)</text>
<path d="M343.00,531.80 h4.2 M347.20,529.40 v2.6" stroke="#528ACF" stroke-width="1.4" fill="none"/>
<text x="354.00" y="534.60" class="lg">≥1 CNV (<tspan font-style="italic">n</tspan> = 433)</text>
<text x="322.60" y="620.20" class="pv"><tspan font-style="italic">P</tspan> = 0.148</text>
</g>
</svg>
</body></html>
